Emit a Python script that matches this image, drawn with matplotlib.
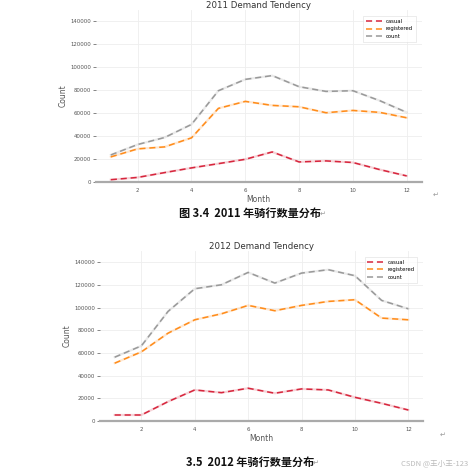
import matplotlib.pyplot as plt
import numpy as np

plt.rcParams['font.family'] = ['DejaVu Sans', 'Noto Sans CJK SC']

months = np.arange(1, 13)

casual_2011 = [2000, 4000, 8200, 12300, 16000, 19800, 26200, 17500, 18400, 17000, 10800, 5300]
registered_2011 = [21900, 28900, 30600, 38500, 64200, 70300, 66800, 65600, 60400, 62400, 60700, 56000]
count_2011 = [23600, 32700, 38800, 50200, 79600, 89500, 92800, 83100, 79000, 79600, 70900, 60700]

casual_2012 = [5300, 5300, 17100, 27400, 25000, 28900, 24500, 28300, 27400, 20900, 15600, 9700]
registered_2012 = [51000, 61000, 77500, 89300, 94600, 102000, 97300, 102000, 105500, 107000, 90800, 89300]
count_2012 = [56300, 66300, 96700, 116700, 120200, 131100, 121700, 130500, 133500, 128200, 106400, 99000]

series_names = ["casual", "registered", "count"]
series_colors = ["#d7263d", "#ff8c1a", "#999999"]

cjk = ['Noto Sans CJK SC', 'DejaVu Sans']


def draw_panel(ax, title, data):
    for name, color, values in zip(series_names, series_colors, data):
        ax.plot(months, values, color=color, lw=1.6, alpha=0.2)
        ax.plot(months, values, color=color, lw=1.1, ls=(0, (4, 2.5)), label=name)
    ax.set_ylim(0, 150000)
    ax.set_yticks(np.arange(0, 140001, 20000))
    ax.set_xticks([2, 4, 6, 8, 10, 12])
    ax.grid(True, color="#eeeeee", lw=0.6)
    for side in ["top", "right", "left"]:
        ax.spines[side].set_visible(False)
    ax.spines["bottom"].set_color("#aaaaaa")
    ax.spines["bottom"].set_linewidth(1.6)
    ax.tick_params(axis="both", labelsize=3.9, colors="#555555", length=2, width=0.5, pad=1.5)
    ax.tick_params(axis="x", length=0, pad=4)
    ax.set_title(title, fontsize=6.2, color="#333333", pad=1)
    ax.set_xlabel("Month", fontsize=5.5, color="#555555", labelpad=2)
    ax.set_ylabel("Count", fontsize=5.5, color="#555555", labelpad=2)
    leg = ax.legend(loc="upper right", fontsize=3.8, frameon=True, handlelength=3,
                    borderpad=0.5, labelspacing=0.5, fancybox=False,
                    bbox_to_anchor=(0.99, 0.98))
    leg.get_frame().set_edgecolor("#dddddd")
    leg.get_frame().set_linewidth(0.5)


fig = plt.figure(figsize=(4.74, 4.70), dpi=100)

ax1 = fig.add_axes([96 / 474, 288 / 470, 325.5 / 474, 172 / 470])
draw_panel(ax1, "2011 Demand Tendency", [casual_2011, registered_2011, count_2011])

ax2 = fig.add_axes([100 / 474, 49 / 470, 323 / 474, 170 / 470])
draw_panel(ax2, "2012 Demand Tendency", [casual_2012, registered_2012, count_2012])

# captions below each chart
fig.text(250 / 474, 1 - 213 / 470, "图 3.4  2011 年骑行数量分布", ha="center", va="center",
         fontsize=8, fontweight="bold", family=cjk, color="#111111")
fig.text(320 / 474, 1 - 214 / 470, "↵", ha="left", va="center", fontsize=5, color="#999999")
fig.text(250 / 474, 1 - 462 / 470, "3.5  2012 年骑行数量分布", ha="center", va="center",
         fontsize=8, fontweight="bold", family=cjk, color="#111111")
fig.text(313 / 474, 1 - 463 / 470, "↵", ha="left", va="center", fontsize=5, color="#999999")

fig.text(433 / 474, 1 - 195 / 470, "↵", ha="left", va="center", fontsize=5, color="#999999")
fig.text(440 / 474, 1 - 435 / 470, "↵", ha="left", va="center", fontsize=5, color="#999999")

fig.text(468 / 474, 1 - 463 / 470, "CSDN @王小王-123", ha="right", va="center",
         fontsize=5.5, family=cjk, color="#bbbbbb")

fig.savefig("out.png", dpi=100)
